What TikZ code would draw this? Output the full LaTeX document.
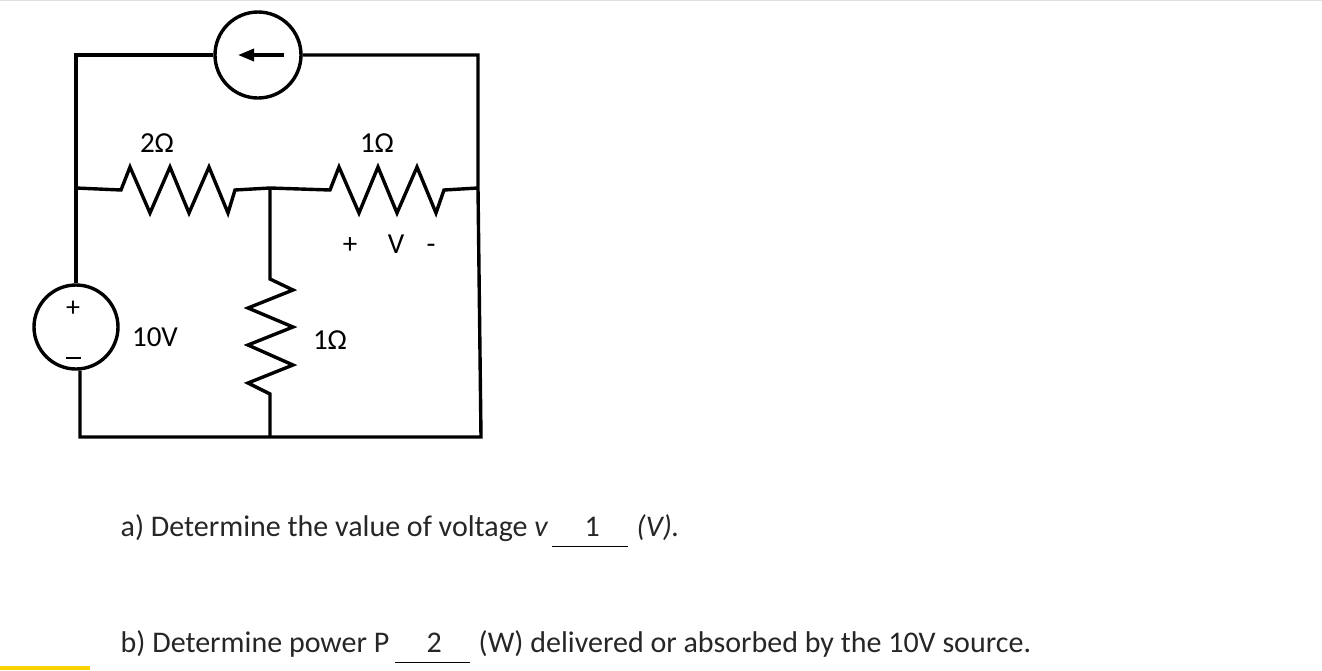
\documentclass[tikz,border=0pt]{standalone}
\usepackage{fontspec}
\setmainfont{Carlito}
\usetikzlibrary{arrows.meta}
\begin{document}
\begin{tikzpicture}[x=1pt,y=-1pt,line width=3.4pt,
  wire/.style={line join=miter},
  lbl/.style={font=\fontsize{29}{32}\selectfont},
  qtext/.style={font=\fontsize{30}{34}\selectfont,anchor=base west,inner sep=0pt,text=black!85}]
\useasboundingbox (0,0) rectangle (1322,670);
\draw[line width=1pt,black!12] (0,0.5) -- (1322,0.5);
\fill[yellow!70!orange] (0,666) rectangle (90,670);
% nodes
\node[circle,draw,minimum size=86pt,inner sep=0pt] (cs) at (258,55) {};
\node[circle,draw,minimum size=84pt,inner sep=0pt] (vs) at (76,327) {};
\coordinate (tl) at (76,55); \coordinate (tr) at (478,55);
\coordinate (ml) at (76,188); \coordinate (mm) at (270,188); \coordinate (mr) at (478,188);
\coordinate (bl) at (80,437); \coordinate (bm) at (270,437); \coordinate (br) at (481,437);
\draw[wire] (cs.west) -- (tl) -- (ml) -- (vs.north);
\draw[wire] (cs.east) -- (tr) -- (mr) -- (br) -- (bm) -- (bl) -- (vs.south -| bl);
\draw[-{Triangle[length=16pt,width=12pt]}] (284,55) -- (238,55);
% 2 ohm
\draw[wire] (ml) -- (121,190) -- (130,167) -- (150,213) -- (170,167) -- (189,213) -- (209,167) -- (228,213) -- (235,190) -- (mm);
% 1 ohm top
\draw[wire] (mm) -- (330,190) -- (339,167) -- (359,213) -- (378,167) -- (397,213) -- (417,167) -- (436,213) -- (444,190) -- (mr);
% 1 ohm vertical
\draw[wire] (mm) -- (270,279) -- (293,290) -- (248,308) -- (293,327) -- (248,345) -- (293,365) -- (248,383) -- (270,394) -- (bm);
% labels
\node[lbl] (l1) at (157,143) {2Ω};
\node[lbl] (l2) at (377,143) {1Ω};
\node[lbl,anchor=base] (l3a) at (350,253) {+};
\node[lbl,anchor=base] (l3b) at (396,253) {V};
\node[lbl,anchor=base] (l3c) at (431,253) {-};
\node[lbl] (l4) at (155,337) {10V};
\node[lbl] (l5) at (330,340) {1Ω};
\node[font=\fontsize{28}{28}\selectfont] (pl) at (73,309) {+};
\draw[line width=1.5pt] (66,358) -- (81,358);
% questions
\node[qtext] (qa) at (119,536) {a) Determine the value of voltage \textit{v}};
\node[qtext] (a1) at (583,536) {1};
\node[qtext] (qa2) at (635,536) {\textit{(V).}};
\draw[line width=1pt] (552,546) -- (628,546);
\node[qtext] (qb) at (119,652) {b) Determine power P};
\node[qtext] (b1) at (425,652) {2};
\node[qtext] (qb2) at (477,652) {(W) delivered or absorbed by the 10V source.};
\draw[line width=1pt] (395,662) -- (470,662);
\end{tikzpicture}
\end{document}
